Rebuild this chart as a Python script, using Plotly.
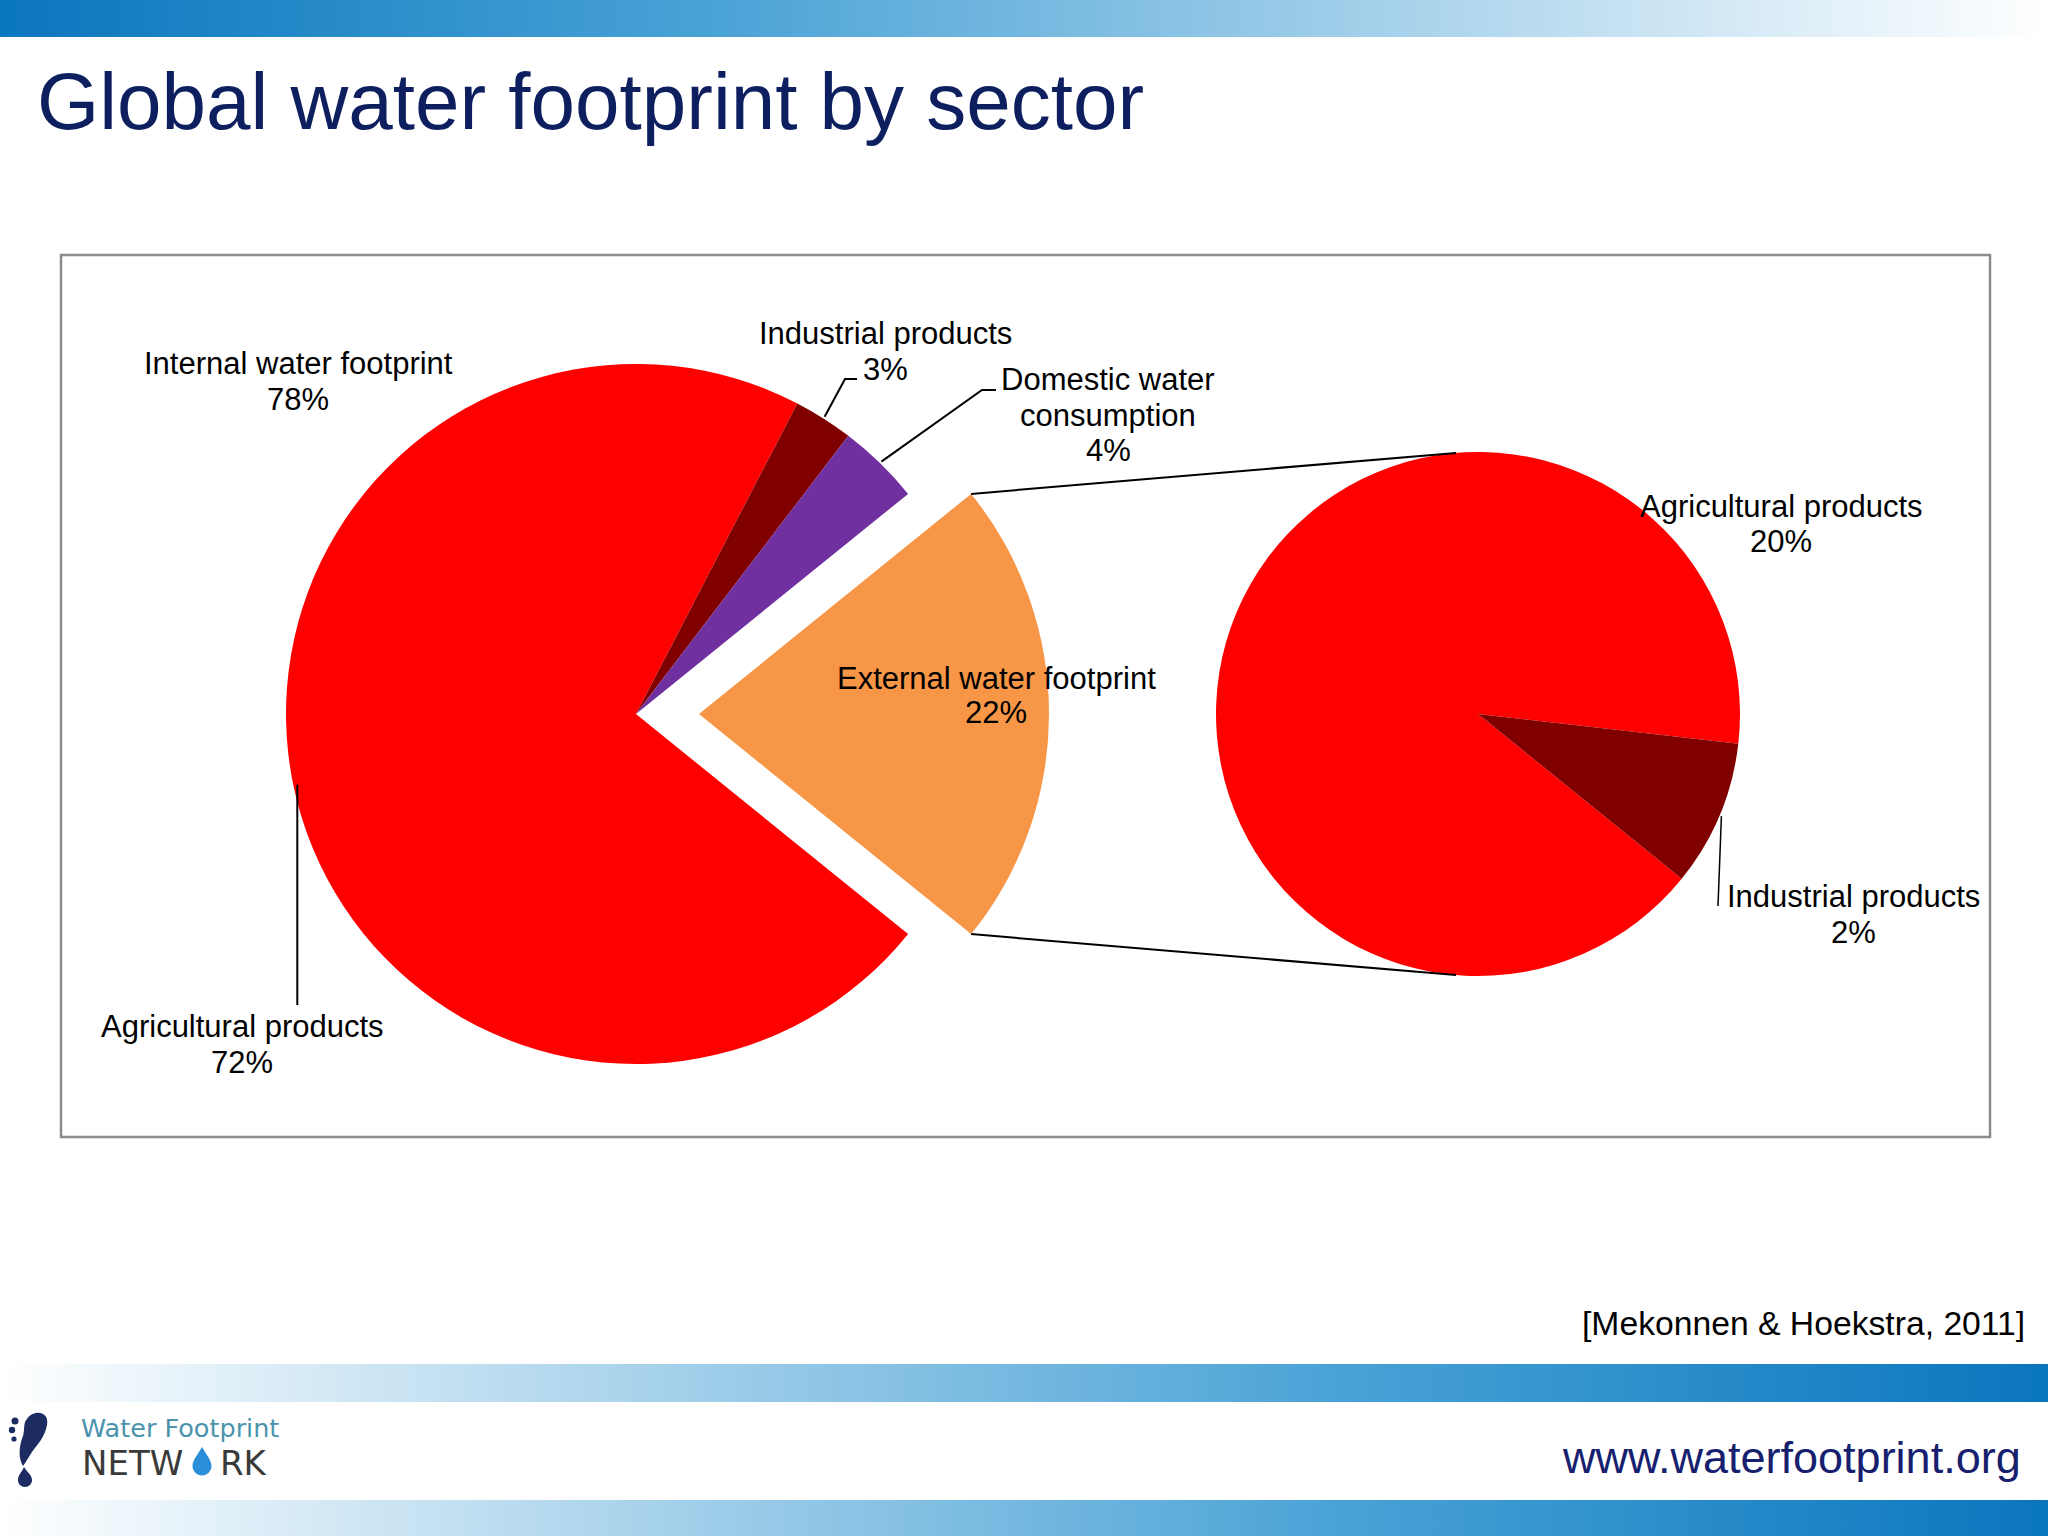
import math
import plotly.graph_objects as go

W, H = 2048, 1536

# ---------------- data ----------------
title_text = "Global water footprint by sector"
main_labels = ["Agricultural products", "Industrial products",
               "Domestic water consumption", "External water footprint"]
main_values = [71.8, 2.75, 3.8, 21.65]
main_colors = ["#ff0000", "#800000", "#7030a0", "#f79646"]
internal_label = "Internal water footprint"

ext_labels = ["Agricultural products", "Industrial products"]
ext_values = [19.7, 1.95]
ext_colors = ["#ff0000", "#800000"]

source_text = "[Mekonnen & Hoekstra, 2011]"
url_text = "www.waterfootprint.org"
logo_top = "Water Footprint"
logo_bottom = ("NETW", "RK")

# ---------------- geometry / style ----------------
FONT = "Liberation Sans, Arial, sans-serif"
C1, R1, PULL = (636, 714), 350, 0.18
C2, R2 = (1478, 714), 262

total = sum(main_values)
rotation = 90 + main_values[-1] / total * 180   # exploded slice centred at 3 o'clock


def dom(cx, cy, half):
    return dict(x=[(cx - half) / W, (cx + half) / W],
                y=[1 - (cy + half) / H, 1 - (cy - half) / H])


def clock_pt(c, r, a):
    t = math.radians(a)
    return (c[0] + r * math.sin(t), c[1] - r * math.cos(t))


def bounds_of(values, rot):
    tot = sum(values)
    b = [rot]
    for v in values:
        b.append(b[-1] + v / tot * 360)
    return b, [(b[i] + b[i + 1]) / 2 for i in range(len(values))]


mb, mm = bounds_of(main_values, rotation)
eb, em = bounds_of(ext_values, rotation)

fig = go.Figure()

# gradient bands (drawn on a hidden pixel-space axis)
blue_to_white = [[0, "#0a76be"], [0.35, "#4aa3d6"], [0.6, "#90c6e6"],
                 [0.85, "#d6eaf6"], [1, "#ffffff"]]
white_to_blue = [[1 - p, c] for p, c in reversed(blue_to_white)]
for (y0, y1, cs) in [(0, 37, blue_to_white), (1364, 1402, white_to_blue),
                     (1500, 1536, white_to_blue)]:
    fig.add_trace(go.Scatter(x=[0, W, W, 0, 0], y=[y0, y0, y1, y1, y0],
                             fill="toself", mode="none",
                             fillgradient=dict(type="horizontal", colorscale=cs),
                             hoverinfo="skip", showlegend=False))

fig.add_trace(go.Pie(labels=main_labels, values=main_values, sort=False,
                     direction="clockwise", rotation=rotation,
                     pull=[0, 0, 0, PULL],
                     marker=dict(colors=main_colors, line=dict(width=0)),
                     textinfo="none", hoverinfo="label+value",
                     showlegend=False, domain=dom(*C1, R1 * (1 + PULL))))
fig.add_trace(go.Pie(labels=ext_labels, values=ext_values, sort=False,
                     direction="clockwise", rotation=rotation,
                     marker=dict(colors=ext_colors, line=dict(width=0)),
                     textinfo="none", hoverinfo="label+value",
                     showlegend=False, domain=dom(*C2, R2)))

shapes = []
ann = []


def line(pts, color="black", width=2):
    d = "M " + " L ".join(f"{x:.1f},{y:.1f}" for x, y in pts)
    shapes.append(dict(type="path", path=d, xref="x", yref="y",
                       line=dict(color=color, width=width), layer="above"))


def text(x, baseline, s, size=31, color="black", anchor="center", family=FONT,
         mid=0.3465):
    ann.append(dict(x=x, y=baseline - mid * size, xref="x", yref="y",
                    text=s, showarrow=False, xanchor=anchor, yanchor="middle",
                    borderpad=0,
                    font=dict(family=family, size=size, color=color)))


def pct(v):
    return f"{round(v)}%"


# chart frame
shapes.append(dict(type="rect", xref="x", yref="y", x0=61, x1=1990, y0=255, y1=1137,
                   line=dict(color="#8c8c8c", width=2.5), layer="below"))

# connectors from exploded slice to the secondary pie
apex = clock_pt(C1, PULL * R1, mm[3])
tip_top = clock_pt(apex, R1, mb[3])
tip_bot = clock_pt(apex, R1, mb[4])
dx = 22
dy = math.sqrt(R2 ** 2 - dx ** 2)
line([tip_top, (C2[0] - dx, C2[1] - dy)])
line([tip_bot, (C2[0] - dx, C2[1] + dy)])

# leader lines
p = clock_pt(C1, R1 - 4, mm[0])
line([p, (p[0], 1005)])
line([clock_pt(C1, R1 + 2, mm[1]), (845, 379), (857, 379)])
line([clock_pt(C1, R1 + 2, mm[2]), (982, 390), (996, 390)])
line([clock_pt(C2, R2 + 2, em[1]), (1718, 906)], width=1.5)

# labels
text(298, 374, internal_label)
text(298, 410, pct(sum(main_values[:3])))
text(242, 1037, main_labels[0])
text(242, 1073, pct(main_values[0]))
text(885, 344, main_labels[1])
text(885, 380, pct(main_values[1]))
dom_a, dom_b = main_labels[2].rsplit(" ", 1)
text(1108, 390, dom_a)
text(1108, 426, dom_b)
text(1108, 461, pct(main_values[2]))
text(996, 689, main_labels[3])
text(996, 723, pct(main_values[3]))
text(1781, 517, ext_labels[0])
text(1781, 552, pct(ext_values[0]))
text(1853, 907, ext_labels[1])
text(1853, 943, pct(ext_values[1]))

# title, source, url
text(36, 129, title_text, size=80, color="#0e1f60", anchor="left")
text(2026, 1335, source_text, size=33.7, color="black", anchor="right")
text(2022, 1473, url_text, size=45, color="#16206e", anchor="right")

# logo
LOGO = "DejaVu Sans, sans-serif"
DJ_MID = 0.346   # (ascent - descent) / 2 for DejaVu Sans
text(80, 1436.5, logo_top, size=25.5, color="#4b93ad", anchor="left", family=LOGO, mid=DJ_MID)
text(81, 1475, logo_bottom[0], size=34, color="#3a3a3a", anchor="left", family=LOGO, mid=DJ_MID)
text(219, 1475, logo_bottom[1], size=34, color="#3a3a3a", anchor="left", family=LOGO, mid=DJ_MID)
shapes.append(dict(type="path", xref="x", yref="y", layer="above",
                   path="M 202,1447 C 197.5,1455 192.5,1460 192.5,1466 "
                        "C 192.5,1471.2 196.8,1475.5 202,1475.5 "
                        "C 207.2,1475.5 211.5,1471.2 211.5,1466 "
                        "C 211.5,1460 206.5,1455 202,1447 Z",
                   fillcolor="#2a8fd8", line=dict(width=0)))
navy = "#1d2b63"
shapes.append(dict(type="path", xref="x", yref="y", layer="above",
                   path="M 27,1419 C 33,1409 50,1411 47,1425 C 45,1437 37,1445 32,1452 "
                        "C 28,1458 26,1462 23,1466 C 18,1458 19,1446 23,1436 "
                        "C 25,1429 23,1423 27,1419 Z",
                   fillcolor=navy, line=dict(width=0)))
for (x, y, r) in [(15, 1421, 3.5), (12, 1430, 3.2), (14, 1439, 2.6)]:
    shapes.append(dict(type="circle", xref="x", yref="y", x0=x - r, x1=x + r,
                       y0=y - r, y1=y + r, fillcolor=navy, line=dict(width=0)))
shapes.append(dict(type="path", xref="x", yref="y", layer="above",
                   path="M 24,1467 C 22,1472 18,1475 18,1480 "
                        "C 18,1484 21,1487 25,1487 C 29,1487 32,1484 32,1480 "
                        "C 32,1475 27,1472 24,1467 Z",
                   fillcolor=navy, line=dict(width=0)))

fig.update_layout(
    width=W, height=H,
    margin=dict(l=0, r=0, t=0, b=0),
    paper_bgcolor="white", plot_bgcolor="rgba(0,0,0,0)",
    xaxis=dict(range=[0, W], visible=False, fixedrange=True, domain=[0, 1]),
    yaxis=dict(range=[H, 0], visible=False, fixedrange=True, domain=[0, 1]),
    shapes=shapes, annotations=ann, showlegend=False,
)

fig.write_html("out.html")
